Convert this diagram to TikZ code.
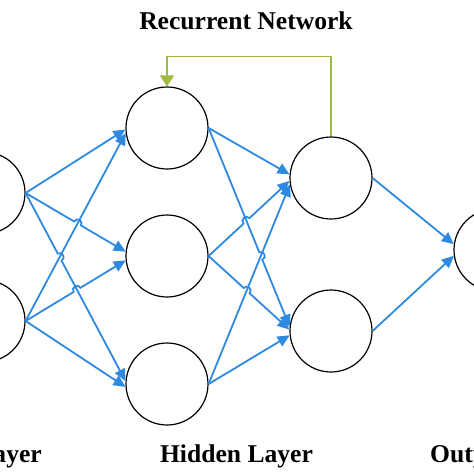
\documentclass[tikz,border=0pt]{standalone}
\usepackage{fontspec}
\setmainfont{Liberation Serif}
\usetikzlibrary{arrows.meta,calc}
\definecolor{linkblue}{RGB}{46,138,224}
\definecolor{loopgreen}{RGB}{157,187,61}
\begin{document}
\begin{tikzpicture}[x=1pt,y=-1pt,
        neuron/.style={circle,draw=black,line width=1.2pt,minimum size=82pt,inner sep=0pt},
        link/.style={draw=linkblue,line width=1.8pt,-{Triangle[length=12pt,width=11pt]}},
        hop/.style={bend left=90,looseness=1.7},
        feedback/.style={draw=loopgreen,line width=1.6pt,-{Triangle[length=11pt,width=14pt]}},
        layertitle/.style={inner sep=0pt,font=\fontsize{25.6}{30}\selectfont\bfseries}]
    \useasboundingbox (0,0) rectangle (474,474);
    \fill[white] (0,0) rectangle (474,474);
    \clip (0,0) rectangle (474,474);
    % layers
    \node[neuron] (i1) at (-16,193) {};
    \node[neuron] (i2) at (-16,321) {};
    \node[neuron] (h1) at (167,128) {};
    \node[neuron] (h2) at (167,256) {};
    \node[neuron] (h3) at (167,384) {};
    \node[neuron] (g1) at (331,178) {};
    \node[neuron] (g2) at (331,331) {};
    \node[neuron] (out) at (495,250) {};
    % plain links
    \foreach \s/\t in {i1/h1.182, i2/h1.187, i2/h3.184, h1/g1.175, h3/g1.189, h3/g2.186, g1/out.172, g2/out.188}
        \draw[link] (\s.east) -- (\t);
    % links that hop over a crossing
    \coordinate (x1) at (intersection of i1.east--h2.174 and i2.east--h1.187);
    \coordinate (x2) at (intersection of i1.east--h3.176 and i2.east--h1.187);
    \coordinate (x3) at (intersection of i2.east--h2.186 and i1.east--h3.176);
    \draw[link] (i1.east) -- ($(x1)!4pt!(i1.east)$) to[hop] ($(x1)!4pt!(h2.174)$) -- (h2.174);
    \draw[link] (i1.east) -- ($(x2)!4pt!(i1.east)$) to[hop] ($(x2)!4pt!(h3.176)$) -- (h3.176);
    \draw[link] (i2.east) -- ($(x3)!4pt!(i2.east)$) to[hop] ($(x3)!4pt!(h2.186)$) -- (h2.186);
    \coordinate (y1) at (intersection of h2.east--g1.184 and h1.east--g2.174);
    \coordinate (y2) at (intersection of h1.east--g2.174 and h3.east--g1.189);
    \coordinate (y3) at (intersection of h2.east--g2.178 and h3.east--g1.189);
    \draw[link] (h2.east) -- ($(y1)!4pt!(h2.east)$) to[hop] ($(y1)!4pt!(g1.184)$) -- (g1.184);
    \draw[link] (h1.east) -- ($(y2)!4pt!(h1.east)$) to[hop] ($(y2)!4pt!(g2.174)$) -- (g2.174);
    \draw[link] (h2.east) -- ($(y3)!4pt!(h2.east)$) to[hop] ($(y3)!4pt!(g2.178)$) -- (g2.178);
    % recurrent loop
    \draw[feedback] (g1.north) -- ++(0,-80) -| (h1.north);
    % texts
    \node[layertitle,anchor=base] (title) at (246,29.5) {Recurrent Network};
    \node[layertitle,anchor=base east] (inlabel) at (42,462.5) {Input Layer};
    \node[layertitle,anchor=base] (hidlabel) at (236.5,462.5) {Hidden Layer};
    \node[layertitle,anchor=base west] (outlabel) at (430,462.5) {Output Layer};
\end{tikzpicture}
\end{document}
